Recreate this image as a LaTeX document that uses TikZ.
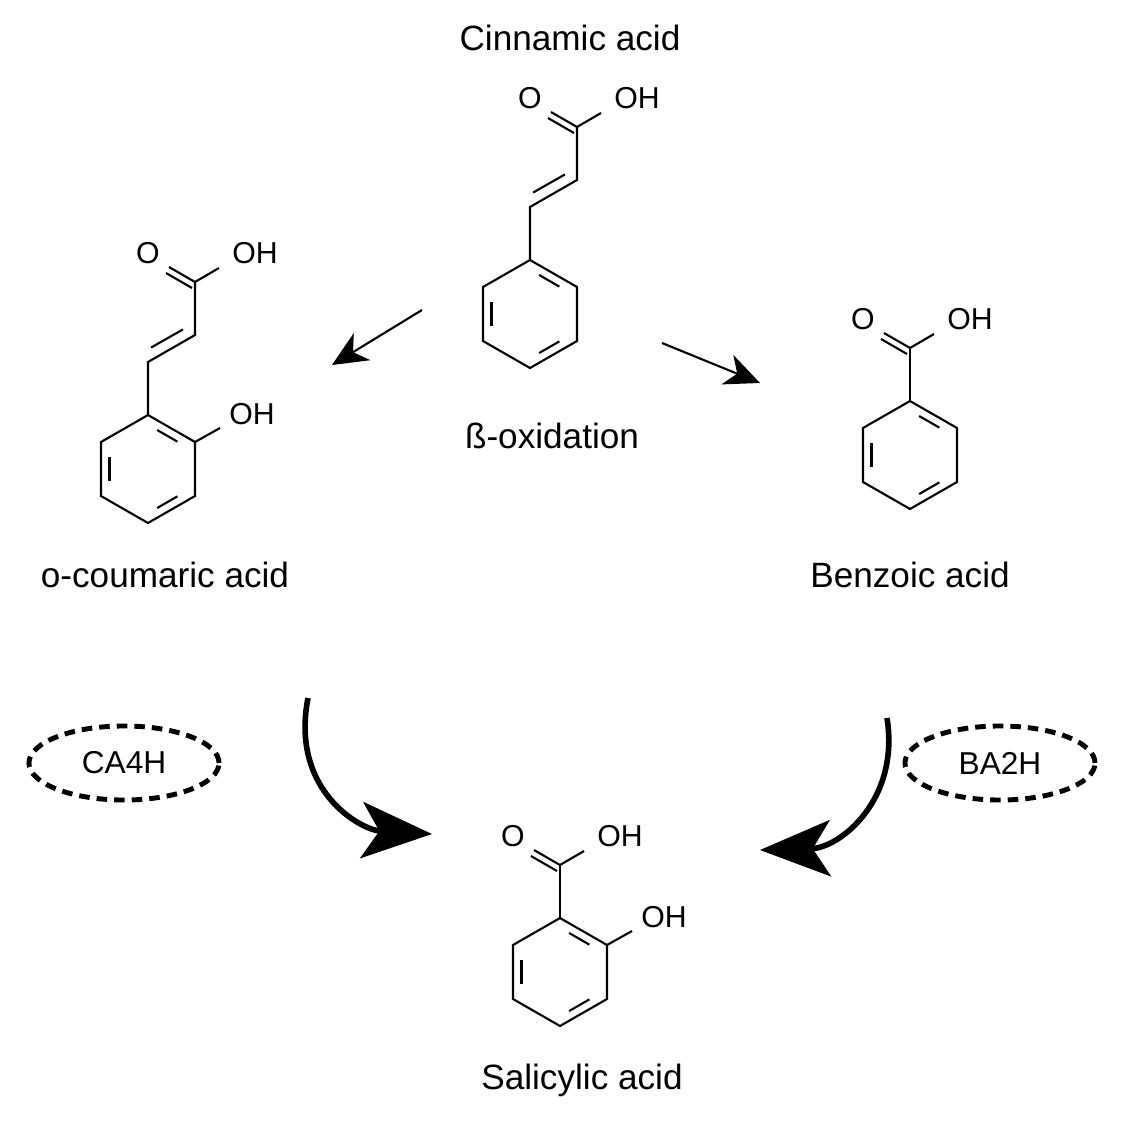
\documentclass[tikz,border=0pt]{standalone}
\usepackage{fontspec}
\setmainfont{Liberation Sans}
\usetikzlibrary{arrows.meta,shapes.geometric}
\tikzset{bond/.style={line width=0.6pt},
 lab/.style={font=\fontsize{10}{12}\selectfont,inner sep=0pt},
 atom/.style={font=\fontsize{8.6}{10}\selectfont,inner sep=0pt},
 thin arrow/.style={line width=0.6pt,-{Stealth[length=10pt,width=9pt,inset=3pt]}},
 thick arrow/.style={line width=1.6pt,-{Stealth[length=20pt,width=16pt,inset=5pt]}},
 enz/.style={draw,ellipse,line width=1.4pt,dash pattern=on 3pt off 2pt,minimum width=1.9cm,minimum height=0.74cm,inner sep=0pt,font=\fontsize{9}{11}\selectfont}}
\newcommand\benzring{%
 \draw[bond] (0,-54)--(47,-27)--(47,27)--(0,54)--(-47,27)--(-47,-27)--cycle;
 \draw[bond,shorten <=3pt,shorten >=3pt] (0,-44.3)--(38.5,-22.1);
 \draw[bond,shorten <=3pt,shorten >=3pt] (-38.5,-22.1)--(-38.5,22.1);
 \draw[bond,shorten <=3pt,shorten >=3pt] (38.5,22.1)--(0,44.3);}
\newcommand\acidat[2]{% carboxyl C at (#1,#2)
 \draw[bond] (#1,#2)--++(-26,-15);
 \draw[bond] (#1-3,#2+6)--++(-26,-15);
 \draw[bond] (#1,#2)--++(24,-14);
 \node[atom] at (#1-47,#2-29) {O};
 \node[atom] at (#1+60,#2-29) {OH};}
\begin{document}
\begin{tikzpicture}[x=0.01cm,y=-0.01cm]
\useasboundingbox (0,0) rectangle (1132,1145);
% Cinnamic acid
\begin{scope}[shift={(530,314)}]
 \benzring
 \draw[bond] (0,-54)--(0,-107)--(47,-134)--(47,-187);
 \draw[bond,shorten <=2pt,shorten >=2pt] (-3,-118)--(41,-143);
 \acidat{47}{-187}
\end{scope}
\node[lab] (cin) at (570,38) {Cinnamic acid};
\node[lab] (box) at (552,436) {ß-oxidation};
% o-coumaric
\begin{scope}[shift={(148,469)}]
 \benzring
 \draw[bond] (0,-54)--(0,-107)--(47,-134)--(47,-187);
 \draw[bond,shorten <=2pt,shorten >=2pt] (-3,-118)--(41,-143);
 \acidat{47}{-187}
 \draw[bond] (47,-27)--(72,-41);
 \node[atom] at (104,-55) {OH};
\end{scope}
\node[lab] (cou) at (165,575) {o-coumaric acid};
% Benzoic
\begin{scope}[shift={(910,455)}]
 \benzring
 \draw[bond] (0,-54)--(0,-107);
 \acidat{0}{-107}
\end{scope}
\node[lab] (ben) at (910,575) {Benzoic acid};
% Salicylic
\begin{scope}[shift={(560,972)}]
 \benzring
 \draw[bond] (0,-54)--(0,-107);
 \acidat{0}{-107}
 \draw[bond] (47,-27)--(72,-41);
 \node[atom] at (104,-55) {OH};
\end{scope}
\node[lab] (sal) at (582,1080) {Salicylic acid};
% arrows
\coordinate (a1s) at (422,310); \coordinate (a1e) at (332,365);
\coordinate (a2s) at (662,343); \coordinate (a2e) at (760,383);
\draw[thin arrow] (a1s)--(a1e);
\draw[thin arrow] (a2s)--(a2e);
\coordinate (c1s) at (308,698); \coordinate (c1e) at (432,834);
\coordinate (c2s) at (887,718); \coordinate (c2e) at (760,850);
\draw[thick arrow] (c1s) .. controls (290,790) and (360,830) .. (c1e);
\draw[thick arrow] (c2s) .. controls (900,800) and (840,848) .. (c2e);
\node[enz] (ca) at (124,763) {CA4H};
\node[enz] (ba) at (1000,763) {BA2H};
\end{tikzpicture}
\end{document}
